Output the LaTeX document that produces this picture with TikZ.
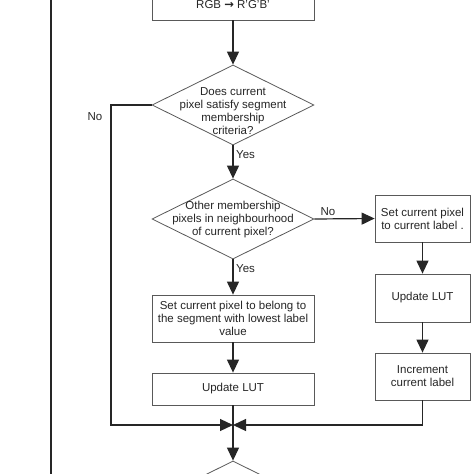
\documentclass[tikz,border=0pt]{standalone}
\usepackage{fontspec}
\setmainfont{Liberation Sans}
\newfontfamily\symfont{DejaVu Sans}
\usetikzlibrary{shapes.geometric,arrows.meta}
\begin{document}
\begin{tikzpicture}[x=1pt,y=-1pt,
  font=\fontsize{11.5}{13}\selectfont,
  procbox/.style={draw=black!65,line width=0.8pt,inner sep=0pt,align=center,text=black!85},
  decision/.style={diamond,draw=black!65,line width=0.8pt,inner sep=0pt,minimum width=162pt,minimum height=80pt},
  dtext/.style={align=center,inner sep=0pt,text=black!85},
  conn/.style={line width=1.2pt,black!85},
  arr/.style={conn,-{Triangle[length=13pt,width=12pt]}},
  lbl/.style={inner sep=0pt,text=black!85}]
\clip (0,0) rectangle (474,474);
\fill[white] (0,0) rectangle (474,474);
% outer line
\coordinate (outtop) at (51,0);
\coordinate (outbot) at (51,474);
\draw[conn] (outtop) -- (outbot);
% top box
\node[procbox,minimum width=162pt,minimum height=30pt] (top) at (233,5) {RGB {\symfont\bfseries →} R'G'B'};
% diamond 1
\node[decision] (d1) at (233,105) {};
\node[dtext] (d1t) at (233,111) {Does current\\pixel satisfy segment\\membership\\criteria?};
% diamond 2
\node[decision] (d2) at (233,219) {};
\node[dtext] (d2t) at (233,220) {Other membership\\pixels in neighbourhood\\of current pixel?};
% right column
\node[procbox,minimum width=95pt,minimum height=47pt] (r1) at (422.5,218.5) {Set current pixel\\to current label .};
\node[procbox,minimum width=95pt,minimum height=48pt] (r2) at (422.5,298) {Update LUT};
\node[procbox,minimum width=95pt,minimum height=47pt] (r3) at (422.5,376.5) {Increment\\current label};
% left column
\node[procbox,minimum width=162pt,minimum height=47pt] (l1) at (233,318.5) {Set current pixel to belong to\\the segment with lowest label\\value};
\node[procbox,minimum width=162pt,minimum height=32pt] (l2) at (233,389) {Update LUT};
% bottom diamond
\node[decision] (d3) at (233,501) {};
% junction
\coordinate (jn) at (233,425);
\coordinate (nocorner) at (111,105);
\coordinate (nobot) at (111,425);
\coordinate (rbot) at (r3.south |- jn);
% connectors
\draw[arr] (top.south) -- (d1.north);
\draw[arr] (d1.south) -- (d2.north);
\draw[arr] (d2.east) -- (r1.west);
\draw[arr] (r1.south) -- (r2.north);
\draw[arr] (r2.south) -- (r3.north);
\draw[arr] (d2.south) -- (l1.north);
\draw[arr] (l1.south) -- (l2.north);
\draw[conn] (l2.south) -- (jn);
\draw[arr] (jn) -- (d3.north);
\draw[arr] (d1.west) -- (nocorner) -- (nobot) -- (jn);
\draw[arr] (r3.south) -- (rbot) -- (jn);
% labels
\node[lbl] (no1) at (95,117) {No};
\node[lbl,anchor=west] (yes1) at (236,155) {Yes};
\node[lbl] (no2) at (328,212) {No};
\node[lbl,anchor=west] (yes2) at (236,269) {Yes};
\end{tikzpicture}
\end{document}
